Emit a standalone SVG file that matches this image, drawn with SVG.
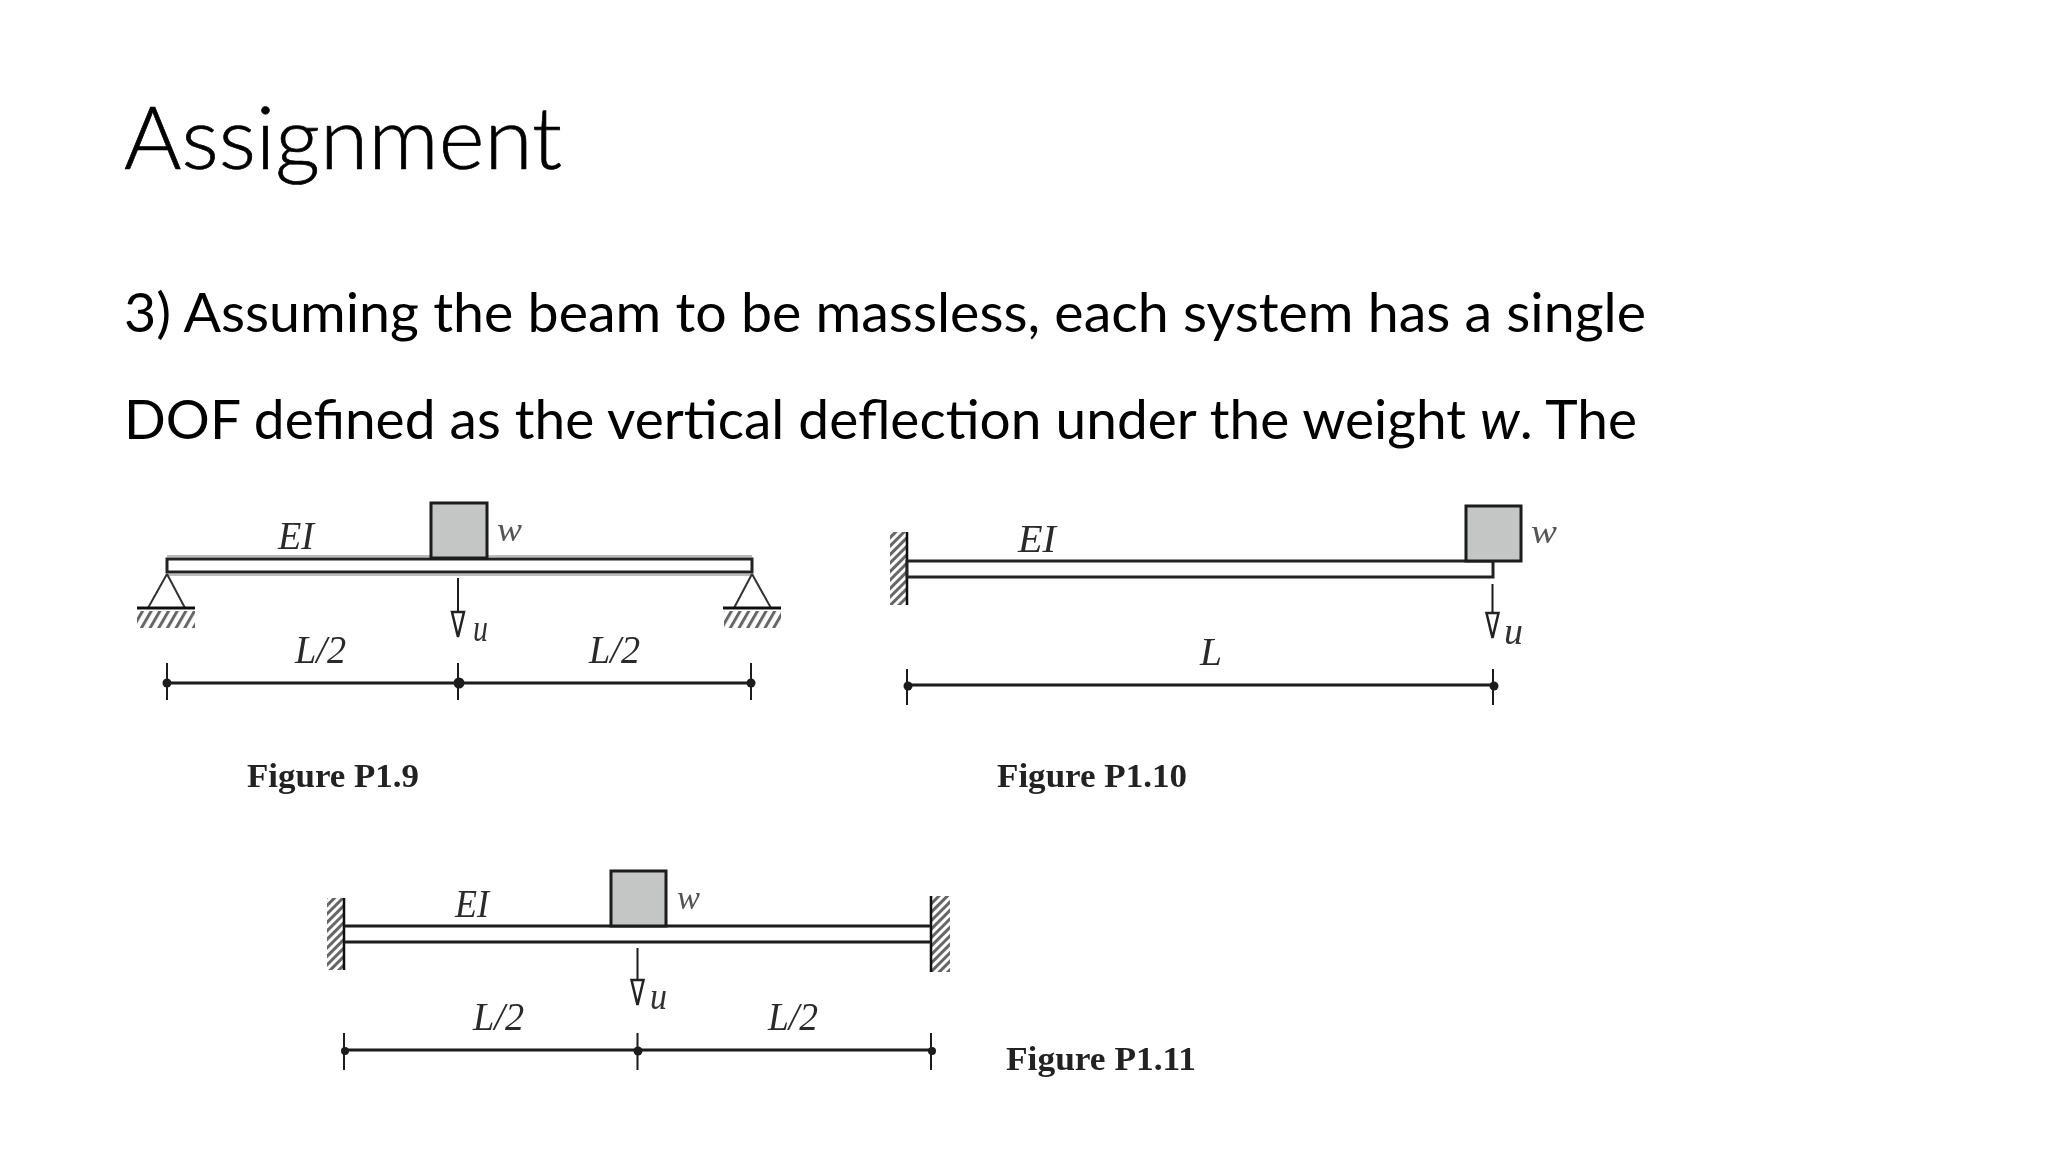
<svg xmlns="http://www.w3.org/2000/svg" width="2048" height="1152" viewBox="0 0 2048 1152">
<style>
.title{font-family:"Lato","Carlito","Liberation Sans",sans-serif;font-weight:300;font-size:86px;fill:#000;stroke:#000;stroke-width:.7px}
.body{font-family:"Lato","Carlito","Liberation Sans",sans-serif;font-size:54px;fill:#000}
.it{font-family:"Liberation Serif",serif;font-style:italic;fill:#2a2a2a}
.sym{font-size:40px}
.sm{font-size:34px;fill:#555}
.un{font-size:38px;fill:#333}
.cap{font-family:"Liberation Serif",serif;font-weight:bold;font-size:34px;fill:#222}
.beam{fill:#fff;stroke:#222;stroke-width:3}
.block{fill:#c4c6c6;stroke:#1c1c1c;stroke-width:3}
.dim{stroke:#1c1c1c;stroke-width:3;fill:none}
.tick{stroke:#1c1c1c;stroke-width:2;fill:none}
.arrow{stroke:#1c1c1c;stroke-width:2;fill:none;marker-end:url(#head)}
.gnd{stroke:#111;stroke-width:3;fill:none}
.tri{stroke:#333;stroke-width:2;fill:none}
.dot{fill:#1c1c1c}
.wall{stroke:#111;stroke-width:2.5;fill:none}
</style>
<defs>
<filter id="soft" x="-5%" y="-5%" width="110%" height="110%"><feGaussianBlur stdDeviation="0.75"/></filter>
<marker id="head" markerUnits="userSpaceOnUse" markerWidth="16" markerHeight="28" refX="8" refY="26" orient="0" overflow="visible">
<path d="M2,1 L14,1 L8,26 Z" fill="#fff" stroke="#222" stroke-width="2.500"/>
</marker>
<pattern id="hatch" patternUnits="userSpaceOnUse" width="7.500" height="7.500" patternTransform="rotate(30)">
<rect width="3" height="7.500" fill="#666"/>
</pattern>
<pattern id="hatchWall" patternUnits="userSpaceOnUse" width="6" height="6" patternTransform="rotate(-45)">
<rect width="6" height="3" fill="#666"/>
</pattern>
</defs>
<rect width="2048" height="1152" fill="#fff"/>

<g id="heading">
<text class="title" x="124" y="169" textLength="438" lengthAdjust="spacingAndGlyphs">Assignment</text>
<text class="body" x="124" y="332" textLength="1522" lengthAdjust="spacingAndGlyphs">3) Assuming the beam to be massless, each system has a single</text>
<text class="body" x="124" y="439" textLength="1513" lengthAdjust="spacingAndGlyphs">DOF defined as the vertical deflection under the weight <tspan font-style="italic">w</tspan>. The</text>
</g>

<g id="figures" filter="url(#soft)">
<g id="connectors">
<path class="arrow" d="M458,578 V637"/>
<path class="dim" d="M167,683 H751"/>
<path class="tick" d="M167,663 V700 M458,663 V700 M751,663 V700"/>
<path class="arrow" d="M1492.500,584 V638"/>
<path class="dim" d="M907,685 H1493"/>
<path class="tick" d="M907,669 V705 M1493,669 V705"/>
<path class="arrow" d="M637.500,948 V1005"/>
<path class="dim" d="M344,1050 H931"/>
<path class="tick" d="M344,1033 V1070 M637.500,1033 V1070 M931,1033 V1070"/>
<circle class="dot" cx="167" cy="683" r="4.500"/><circle class="dot" cx="459" cy="683" r="5.500"/><circle class="dot" cx="751" cy="683" r="4.500"/>
<circle class="dot" cx="908" cy="686" r="4.500"/><circle class="dot" cx="1494" cy="686" r="4.500"/>
<circle class="dot" cx="345" cy="1051" r="4"/><circle class="dot" cx="638" cy="1051" r="4.500"/><circle class="dot" cx="932" cy="1051" r="4"/>
</g>

<g id="fig-p1-9">
<g id="p19-beam"><rect class="beam" x="167" y="559" width="585" height="13"/><path d="M167,556 H752 M167,575 H752" stroke="#bbb" stroke-width="2" fill="none"/></g>
<g id="p19-weight"><rect class="block" x="431" y="503" width="56" height="55"/></g>
<g id="p19-support-left">
<path class="tri" d="M167,574 L148,608 M167,574 L185,608"/>
<rect x="137" y="611" width="58" height="17" fill="url(#hatch)"/>
<path class="gnd" d="M137,608 H195"/>
</g>
<g id="p19-support-right">
<path class="tri" d="M752,574 L734,608 M752,574 L771,608"/>
<rect x="724" y="611" width="57" height="17" fill="url(#hatch)"/>
<path class="gnd" d="M723,608 H781"/>
</g>
<text class="it sym" x="278" y="549" textLength="36" lengthAdjust="spacingAndGlyphs">EI</text>
<text class="it sm" x="497" y="541" textLength="25" lengthAdjust="spacingAndGlyphs">w</text>
<text class="it un" x="473" y="641" textLength="15" lengthAdjust="spacingAndGlyphs">u</text>
<text class="it sym" x="295" y="663" textLength="51" lengthAdjust="spacingAndGlyphs">L/2</text>
<text class="it sym" x="589" y="663" textLength="51" lengthAdjust="spacingAndGlyphs">L/2</text>
<text class="cap" x="247" y="787" textLength="172" lengthAdjust="spacingAndGlyphs">Figure P1.9</text>
</g>

<g id="fig-p1-10">
<g id="p110-wall"><rect x="890" y="532" width="17" height="73" fill="url(#hatchWall)"/><path class="wall" d="M907,532 V605"/></g>
<g id="p110-beam"><rect class="beam" x="907" y="561" width="586" height="16"/></g>
<g id="p110-weight"><rect class="block" x="1466" y="506" width="55" height="55"/></g>
<text class="it sym" x="1018" y="552" textLength="38" lengthAdjust="spacingAndGlyphs">EI</text>
<text class="it sm" x="1531" y="543" textLength="26" lengthAdjust="spacingAndGlyphs">w</text>
<text class="it un" x="1504" y="644" textLength="19" lengthAdjust="spacingAndGlyphs">u</text>
<text class="it sym" x="1200" y="665" textLength="22" lengthAdjust="spacingAndGlyphs">L</text>
<text class="cap" x="997" y="787" textLength="190" lengthAdjust="spacingAndGlyphs">Figure P1.10</text>
</g>

<g id="fig-p1-11">
<g id="p111-wall-left"><rect x="327" y="898" width="17" height="72" fill="url(#hatchWall)"/><path class="wall" d="M344,898 V970"/></g>
<g id="p111-wall-right"><rect x="931" y="896" width="19" height="76" fill="url(#hatchWall)"/><path class="wall" d="M931,896 V972"/></g>
<g id="p111-beam"><path class="dim" d="M344,926 H931 M344,942 H931"/></g>
<g id="p111-weight"><rect class="block" x="611" y="871" width="55" height="55"/></g>
<text class="it sym" x="455" y="917" textLength="34" lengthAdjust="spacingAndGlyphs">EI</text>
<text class="it sm" x="677" y="909" textLength="23" lengthAdjust="spacingAndGlyphs">w</text>
<text class="it un" x="650" y="1009" textLength="17" lengthAdjust="spacingAndGlyphs">u</text>
<text class="it sym" x="473" y="1030" textLength="51" lengthAdjust="spacingAndGlyphs">L/2</text>
<text class="it sym" x="768" y="1030" textLength="50" lengthAdjust="spacingAndGlyphs">L/2</text>
<text class="cap" x="1014" y="1070" textLength="190" lengthAdjust="spacingAndGlyphs" transform="translate(-8 0)">Figure P1.11</text>
</g>
</g>
</svg>
